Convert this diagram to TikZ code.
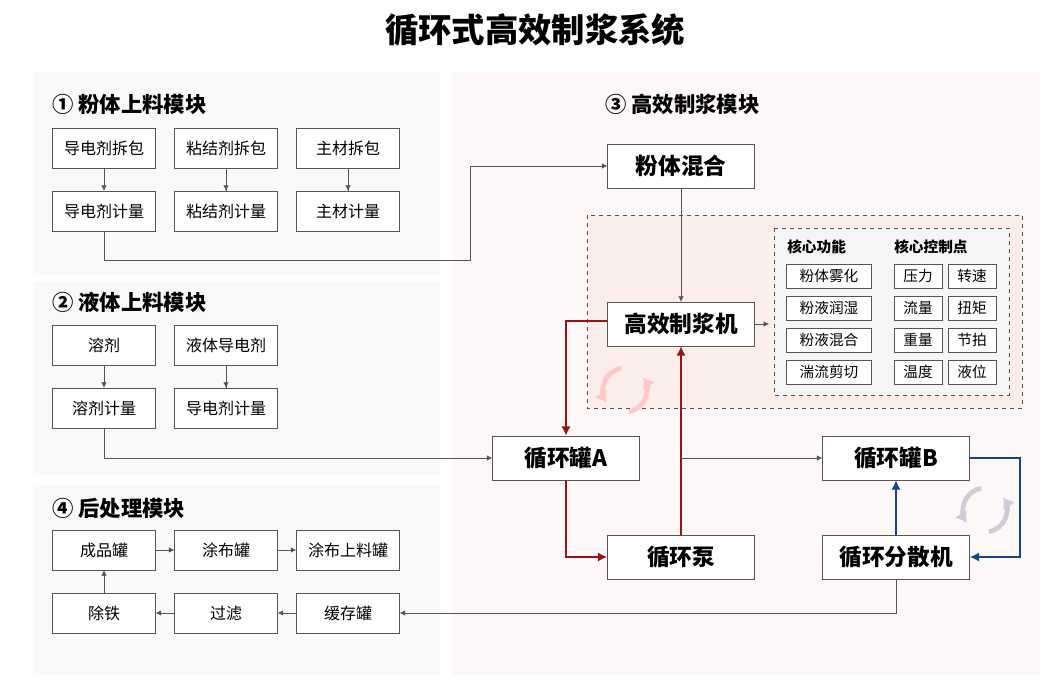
\documentclass[tikz,border=0pt]{standalone}
\usepackage{fontspec}
\setmainfont{Noto Sans CJK SC}
\usetikzlibrary{arrows.meta,positioning}
\definecolor{darkred}{HTML}{9B1212}
\definecolor{darkblue}{HTML}{12468E}
\definecolor{boxline}{HTML}{555555}
\definecolor{modbg}{HTML}{F8F9FB}
\definecolor{slurrybg}{HTML}{FDF7F7}
\definecolor{corebg}{HTML}{FBEDEA}
\tikzset{
  box/.style={draw=boxline, fill=white, minimum width=103*0.75pt, minimum height=40*0.75pt, inner sep=0pt, font=\fontsize{12}{12}\selectfont},
  big box/.style={box, minimum width=147*0.75pt, minimum height=44*0.75pt, font=\fontsize{17}{17}\selectfont\bfseries},
  core box/.style={box, minimum width=85*0.75pt, minimum height=24*0.75pt, font=\fontsize{11}{11}\selectfont},
  ctrl box/.style={core box, minimum width=48*0.75pt},
  heading/.style={anchor=west, inner sep=0pt, font=\fontsize{16}{16}\selectfont\bfseries},
  flow/.style={draw=boxline, -{Latex[length=4pt,width=4pt]}},
  line/.style={draw=boxline},
  red flow/.style={draw=darkred, line width=1.6pt, -{Latex[length=7pt,width=7pt]}},
  blue flow/.style={draw=darkblue, line width=1.6pt, -{Latex[length=7pt,width=7pt]}},
}
\begin{document}
\begin{tikzpicture}[x=0.75pt, y=-0.75pt]
\useasboundingbox (0,0) rectangle (1057,680);
% backgrounds
\fill[modbg] (33,72) rectangle (440,275);
\fill[modbg] (33,282) rectangle (440,475);
\fill[modbg] (33,485) rectangle (440,675);
\fill[slurrybg] (452,72) rectangle (1040,675);
\draw[boxline, dashed, fill=corebg] (587,215) rectangle (1022,408);
\draw[boxline, dashed, fill=gray!8!white] (774,228) rectangle (1009,395);

\node[font=\fontsize{25}{25}\selectfont\bfseries] (title) at (535,30) {循环式高效制浆系统};
\node[heading] (h1) at (52,104) {① 粉体上料模块};
\node[heading] (h2) at (52,302) {② 液体上料模块};
\node[heading] (h4) at (52,508) {④ 后处理模块};
\node[heading] (h3) at (605,104) {③ 高效制浆模块};

% powder feeding
\node[box] (ddjcb) at (104,148) {导电剂拆包};
\node[box] (njjcb) at (226,148) {粘结剂拆包};
\node[box] (zccb) at (348,148) {主材拆包};
\node[box] (ddjjl) at (104,211) {导电剂计量};
\node[box] (njjjl) at (226,211) {粘结剂计量};
\node[box] (zcjl) at (348,211) {主材计量};
\draw[flow] (ddjcb) -- (ddjjl);
\draw[flow] (njjcb) -- (njjjl);
\draw[flow] (zccb) -- (zcjl);

% liquid feeding
\node[box] (rj) at (104,345) {溶剂};
\node[box] (ytddj) at (226,345) {液体导电剂};
\node[box] (rjjl) at (104,408) {溶剂计量};
\node[box] (ddjjl2) at (226,408) {导电剂计量};
\draw[flow] (rj) -- (rjjl);
\draw[flow] (ytddj) -- (ddjjl2);

% recycle marks
\foreach \c/\col in {{(625,390)}/red!22!white, {(985,510)}/blue!12!gray!35!white}{
  \draw[\col, line width=3.5pt, -{Latex[length=8pt,width=11pt]}] \c ++(-100:22) arc (-100:-215:22);
  \draw[\col, line width=3.5pt, -{Latex[length=8pt,width=11pt]}] \c ++(80:22) arc (80:-35:22);
}

% slurry module
\node[big box] (fthh) at (681,166) {粉体混合};
\node[big box] (zjj) at (681,324) {高效制浆机};
\node[big box] (tankA) at (566,458) {循环罐A};
\node[big box] (pump) at (681,557) {循环泵};
\node[big box] (tankB) at (896,458) {循环罐B};
\node[big box] (disp) at (896,557) {循环分散机};

\node[anchor=west, inner sep=0pt, font=\fontsize{11}{11}\selectfont\bfseries] (hxgn) at (787,247) {核心功能};
\node[anchor=west, inner sep=0pt, font=\fontsize{11}{11}\selectfont\bfseries] (hxkz) at (894,247) {核心控制点};
\foreach \t [count=\i] in {粉体雾化,粉液润湿,粉液混合,湍流剪切}
  \node[core box] (gn\i) at (829,244+32*\i) {\t};
\foreach \a/\b [count=\i] in {压力/转速,流量/扭矩,重量/节拍,温度/液位}{
  \node[ctrl box] (kza\i) at (918,244+32*\i) {\a};
  \node[ctrl box] (kzb\i) at (972,244+32*\i) {\b};
}
\coordinate (core) at (769,324);
\draw[flow] (zjj) -- (core);

% post processing
\node[box] (cpg) at (104,550) {成品罐};
\node[box] (tbg) at (226,550) {涂布罐};
\node[box] (tbslg) at (348,550) {涂布上料罐};
\node[box] (ct) at (104,613) {除铁};
\node[box] (gl) at (226,613) {过滤};
\node[box] (hcg) at (348,613) {缓存罐};
\draw[flow] (cpg) -- (tbg);
\draw[flow] (tbg) -- (tbslg);
\draw[flow] (hcg) -- (gl);
\draw[flow] (gl) -- (ct);
\draw[flow] (ct) -- (cpg);

% connectors
\draw[line] (njjjl) -- ++(0,-49*0.75) (zcjl) -- ++(0,-49*0.75);
\draw[flow] (ddjjl.south) |- (470,260) |- (fthh);
\draw[line] (ddjjl2) -- ++(0,-50*0.75);
\draw[flow] (rjjl.south) |- (tankA);
\draw[flow] (fthh) -- (zjj);
\draw[red flow] (zjj.west |- 0,321) -| (tankA);
\draw[red flow] (tankA) |- (pump);
\draw[red flow] (pump) -- (zjj);
\coordinate (branch) at (681,458);
\draw[flow] (branch) -- (tankB);
\draw[blue flow] (disp) -- (tankB);
\draw[blue flow] (tankB) -| (1020,557) -- (disp);
\draw[flow] (disp) |- (hcg);
\end{tikzpicture}
\end{document}
